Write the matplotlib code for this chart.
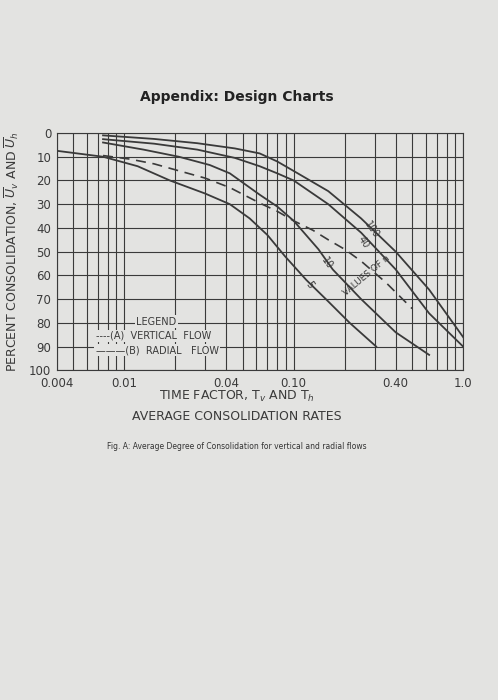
import numpy as np
import matplotlib.pyplot as plt

# readings from the chart (time factor, percent consolidation)
t_vert = [0.0075, 0.0108, 0.015, 0.0212, 0.03, 0.042, 0.063, 0.08, 0.10, 0.13, 0.16, 0.20, 0.25, 0.35, 0.50]
u_vert = [9.5, 11, 13, 16, 19, 23, 29.5, 33, 37, 41, 45, 49, 54, 63, 74]

t_n5 = [0.004, 0.0075, 0.012, 0.0186, 0.03, 0.042, 0.055, 0.07, 0.089, 0.119, 0.16, 0.214, 0.307]
u_n5 = [7.5, 10, 14, 20, 25.5, 30, 36, 43, 52, 62, 71, 80, 90]

t_n10 = [0.0075, 0.013, 0.021, 0.032, 0.042, 0.063, 0.08, 0.10, 0.14, 0.17, 0.25, 0.40, 0.63]
u_n10 = [4, 7, 10, 13.5, 17, 26, 31, 37, 49, 57.5, 70, 84, 93.5]

t_n40 = [0.0075, 0.015, 0.027, 0.045, 0.063, 0.08, 0.10, 0.16, 0.25, 0.40, 0.63, 1.0]
u_n40 = [2.6, 4.5, 7, 10.5, 14, 17, 20, 30, 42, 57.5, 76, 90]

t_n100 = [0.0075, 0.015, 0.027, 0.045, 0.063, 0.08, 0.10, 0.16, 0.25, 0.40, 0.63, 1.0]
u_n100 = [1, 2.5, 4.3, 6.5, 8.6, 12, 16, 24.5, 36, 50, 66, 86]

xtick_vals = [0.004, 0.01, 0.04, 0.10, 0.40, 1.0]
xtick_labels = ["0.004", "0.01", "0.04", "0.10", "0.40", "1.0"]
ytick_vals = list(range(0, 101, 10))
ytick_labels = ["0", "10", "20", "30", "40", "50", "60", "70", "80", "90", "100"]

paper = "#e3e3e1"
ink = "#3a3a3a"

fig = plt.figure(figsize=(4.98, 7.0), dpi=100, facecolor=paper)
ax = fig.add_axes([0.114, 0.471, 0.816, 0.339], facecolor=paper)

ax.set_xscale("log")
ax.set_xlim(0.004, 1.0)
ax.set_ylim(100, 0)

# graph paper grid
grid_x = [k * 10.0 ** e for e in (-3, -2, -1) for k in range(1, 10)] + [1.0]
for gx in grid_x:
    if 0.004 <= gx <= 1.0:
        ax.axvline(gx, color=ink, lw=0.8)
for gy in ytick_vals:
    ax.axhline(gy, color=ink, lw=0.8)

ax.plot(t_vert, u_vert, color=ink, lw=1.2, ls=(0, (6, 4)))
for tt, uu in [(t_n5, u_n5), (t_n10, u_n10), (t_n40, u_n40), (t_n100, u_n100)]:
    ax.plot(tt, uu, color=ink, lw=1.3)

# curve labels
ax.text(0.124, 64, "5", rotation=-55, fontsize=7, color=ink, ha="center", va="center")
ax.text(0.158, 55, "10", rotation=-55, fontsize=7, color=ink, ha="center", va="center")
ax.text(0.26, 46, "40", rotation=-55, fontsize=7, color=ink, ha="center", va="center")
ax.text(0.29, 41, "100", rotation=-55, fontsize=7, color=ink, ha="center", va="center")
ax.text(0.27, 60, "VALUES OF n", rotation=40, fontsize=6.5, color=ink, ha="center", va="center")

# legend drawn in the chart
ax.text(0.0118, 79.5, "LEGEND", fontsize=7, color=ink, va="center",
        bbox=dict(facecolor=paper, edgecolor="none", pad=1))
ax.text(0.0068, 85.5, "----(A)  VERTICAL  FLOW", fontsize=7, color=ink, va="center",
        bbox=dict(facecolor=paper, edgecolor="none", pad=1))
ax.text(0.0068, 91.5, "———(B)  RADIAL   FLOW", fontsize=7, color=ink, va="center",
        bbox=dict(facecolor=paper, edgecolor="none", pad=1))

ax.set_xticks(xtick_vals)
ax.set_xticklabels(xtick_labels)
ax.minorticks_off()
ax.set_yticks(ytick_vals)
ax.set_yticklabels(ytick_labels)
ax.tick_params(length=0, labelsize=8.5, colors=ink)
ax.tick_params(axis="x", pad=5)
ax.tick_params(axis="y", pad=4)
for s in ax.spines.values():
    s.set_color(ink)

fig.text(0.476, 0.862, "Appendix: Design Charts", fontsize=10, fontweight="bold",
         ha="center", va="center", color="#222222")
fig.text(0.024, 0.64, r"PERCENT CONSOLIDATION, $\overline{U}_v$ AND $\overline{U}_h$",
         rotation=90, fontsize=9, ha="center", va="center", color=ink)
fig.text(0.476, 0.433, r"TIME FACTOR, T$_v$ AND T$_h$", fontsize=9, ha="center",
         va="center", color=ink)
fig.text(0.476, 0.405, "AVERAGE CONSOLIDATION RATES", fontsize=9, ha="center",
         va="center", color=ink)
fig.text(0.476, 0.362, "Fig. A: Average Degree of Consolidation for vertical and radial flows",
         fontsize=5.5, ha="center", va="center", color="#333333")

fig.savefig("out.png", dpi=100, facecolor=paper)
